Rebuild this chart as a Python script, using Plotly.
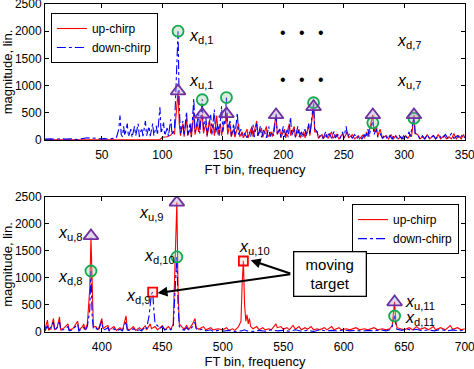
import plotly.graph_objects as go

# ---------------- data ----------------
# top panel, down-chirp (blue) : (FT bin, magnitude)
down_top = [(3,15),(8,20),(12,10),(16,25),(20,15),(25,20),(30,10),(35,25),(38,40),(41,30),(44,35),(48,20),(52,25),(56,15),(60,30),(62,40),(64,200),(65,450),(66,100),(67,60),(68,250),(69,80),(71,300),(72,60),(74,200),(75,50),(77,250),(78,80),(80,300),(81,60),(83,220),(84,70),(86,350),(87,80),(89,250),(90,70),(92,300),(93,80),(95,260),(96,90),(98,600),(99,120),(101,320),(102,80),(104,220),(105,70),(107,380),(108,100),(110,200),(112,1200),(113,2000),(114,600),(115,120),(117,350),(118,80),(120,520),(121,90),(123,320),(124,60),(126,760),(127,150),(129,350),(130,480),(131,120),(133,750),(134,200),(136,420),(137,90),(139,350),(140,460),(141,100),(143,560),(144,130),(146,300),(147,80),(149,620),(150,150),(152,400),(153,780),(154,200),(156,350),(157,80),(159,300),(160,70),(162,500),(163,100),(165,200),(166,60),(168,120),(170,40),(172,150),(173,60),(175,280),(176,50),(178,300),(179,60),(181,250),(182,50),(184,200),(186,40),(188,250),(189,60),(191,150),(192,80),(194,480),(195,120),(197,200),(198,50),(200,250),(201,60),(203,180),(204,50),(206,420),(207,80),(209,200),(210,50),(212,250),(213,60),(215,150),(216,50),(218,200),(219,60),(221,300),(222,100),(224,500),(225,680),(226,200),(228,150),(229,40),(231,100),(233,30),(235,150),(236,40),(238,120),(240,30),(242,160),(243,40),(245,100),(247,30),(249,150),(250,40),(252,250),(253,60),(255,120),(257,30),(259,100),(261,30),(263,80),(265,20),(267,100),(268,40),(270,200),(271,60),(273,300),(274,320),(275,100),(277,200),(278,50),(280,120),(282,30),(284,100),(286,20),(288,80),(290,20),(292,100),(294,30),(296,80),(298,20),(300,100),(302,40),(304,150),(305,60),(307,300),(308,420),(309,120),(311,100),(313,20),(315,80),(317,20),(319,100),(321,20),(324,80),(326,20),(329,90),(331,20),(334,100),(336,30),(339,120),(341,30),(344,80),(346,20),(348,100),(350,40)]

# top panel, up-chirp (red)
up_top = [(3,5),(20,5),(40,8),(60,5),(80,8),(98,10),(100,50),(104,60),(107,90),(109,150),(110,100),(112,600),(113,900),(114,300),(115,80),(117,300),(118,60),(120,400),(121,80),(123,200),(124,50),(126,520),(127,100),(129,300),(130,150),(132,380),(133,470),(134,120),(136,300),(137,60),(139,380),(140,120),(142,300),(143,80),(145,450),(146,100),(148,300),(149,80),(151,350),(152,300),(153,480),(154,100),(156,300),(157,60),(159,200),(160,50),(163,300),(164,60),(166,150),(167,40),(170,200),(171,40),(174,250),(175,60),(178,350),(179,80),(182,220),(183,50),(186,250),(187,50),(190,150),(191,60),(193,300),(194,450),(195,100),(197,200),(198,40),(201,200),(202,40),(205,300),(206,80),(209,250),(210,50),(213,200),(214,40),(217,150),(218,40),(221,260),(222,80),(224,450),(225,620),(226,150),(228,150),(229,30),(232,100),(233,30),(236,100),(237,30),(240,150),(241,30),(244,100),(246,20),(249,120),(250,30),(253,150),(254,40),(257,100),(259,20),(262,80),(263,20),(266,100),(267,30),(269,150),(270,60),(272,250),(273,350),(274,460),(275,150),(277,250),(278,60),(280,200),(282,30),(285,80),(287,20),(289,100),(291,20),(293,80),(295,20),(297,60),(299,20),(301,80),(303,30),(305,100),(306,60),(307,300),(308,460),(309,120),(311,100),(313,20),(315,60),(317,20),(319,100),(321,20),(324,80),(326,20),(328,100),(330,20),(333,80),(335,20),(337,60),(339,20),(341,120),(343,20),(345,80),(347,20),(349,100),(350,40)]

# bottom panel, down-chirp (blue)
down_bot = [(353,20),(355,120),(356,30),(360,180),(361,30),(363,80),(365,190),(366,30),(369,50),(372,100),(373,20),(376,40),(380,150),(381,20),(385,90),(386,20),(388,100),(390,400),(391,1130),(392,300),(393,60),(395,80),(397,20),(400,200),(401,40),(403,50),(405,80),(406,20),(410,60),(412,20),(415,50),(417,20),(420,200),(421,40),(423,20),(426,60),(428,20),(431,40),(433,20),(436,100),(437,60),(439,300),(441,700),(442,740),(443,400),(444,150),(446,120),(448,60),(450,100),(452,40),(455,60),(457,40),(459,100),(461,900),(462,1400),(463,500),(464,100),(466,60),(468,30),(470,80),(472,30),(475,100),(477,180),(478,60),(480,30),(484,60),(486,20),(490,40),(492,10),(496,30),(500,15),(505,30),(510,10),(515,20),(518,40),(520,20),(525,10),(530,30),(535,15),(540,40),(545,20),(550,30),(555,15),(560,40),(565,15),(570,30),(575,10),(580,40),(585,20),(590,30),(595,15),(600,40),(605,20),(610,30),(615,15),(620,30),(625,20),(630,40),(635,20),(638,40),(640,100),(641,200),(642,300),(643,150),(644,50),(648,30),(652,60),(656,30),(660,50),(665,20),(670,40),(675,20),(680,50),(685,20),(690,40),(695,20),(700,30)]

# bottom panel, up-chirp (red)
up_bot = [(353,50),(355,220),(356,40),(358,60),(360,250),(361,40),(363,80),(365,280),(366,40),(369,80),(372,150),(373,40),(376,60),(380,200),(381,40),(384,100),(385,150),(386,40),(388,150),(390,800),(391,1750),(392,600),(393,100),(395,100),(397,40),(400,250),(401,60),(403,100),(405,120),(406,40),(410,100),(412,30),(415,80),(417,30),(420,300),(421,60),(423,40),(426,100),(428,30),(431,80),(433,40),(436,120),(437,40),(440,150),(441,60),(444,100),(446,40),(450,120),(452,40),(455,100),(457,50),(459,150),(461,1500),(462,2400),(463,800),(464,150),(466,100),(468,50),(470,120),(472,50),(475,150),(477,250),(478,80),(480,50),(484,100),(486,40),(490,80),(492,40),(496,60),(500,40),(503,80),(505,30),(508,60),(510,30),(513,100),(515,200),(516,900),(517,1320),(518,500),(519,200),(520,320),(521,150),(522,250),(523,100),(525,60),(528,100),(530,40),(533,80),(535,40),(538,60),(540,40),(544,150),(545,80),(548,100),(550,50),(553,80),(555,40),(558,120),(560,50),(563,100),(565,40),(568,80),(570,50),(573,100),(575,40),(578,60),(580,40),(584,80),(586,40),(590,100),(592,40),(596,80),(598,40),(602,60),(605,40),(610,80),(613,40),(617,60),(620,40),(625,80),(628,40),(632,60),(635,40),(638,60),(640,120),(641,300),(642,560),(643,200),(644,80),(647,60),(650,40),(654,80),(657,40),(660,100),(663,50),(667,80),(670,40),(674,100),(676,40),(680,80),(684,40),(688,120),(690,50),(694,80),(697,40),(700,60)]

# detected peaks
tri_top_bin = [113, 133, 153, 194, 225, 274, 308]
tri_top_mag = [900, 470, 480, 460, 610, 460, 460]
cir_top_bin = [113, 133, 153, 225, 274, 308]
cir_top_mag = [2000, 740, 780, 685, 315, 400]

tri_bot_bin = [391, 462, 642]
tri_bot_mag = [1780, 2400, 555]
cir_bot_bin = [391, 462, 642]
cir_bot_mag = [1130, 1390, 296]
sq_bot_bin = [442, 517]
sq_bot_mag = [740, 1315]

y_ticks = [0, 500, 1000, 1500, 2000, 2500]
x_ticks_top = [50, 100, 150, 200, 250, 300, 350]
x_ticks_bot = [400, 450, 500, 550, 600, 650, 700]

# ---------------- figure ----------------
RED = "rgb(255,0,0)"
BLUE = "rgb(0,0,255)"
PURPLE = "rgb(112,48,160)"
GREEN = "rgb(20,170,80)"
FONT = "Liberation Sans, Arial, sans-serif"

fig = go.Figure()

def unzip(p):
    return [a for a, _ in p], [b for _, b in p]

x, y = unzip(up_top)
fig.add_trace(go.Scatter(x=x, y=y, mode="lines", name="up-chirp",
                         line=dict(color=RED, width=1.1),
                         xaxis="x", yaxis="y", legend="legend", legendrank=1))
x, y = unzip(down_top)
fig.add_trace(go.Scatter(x=x, y=y, mode="lines", name="down-chirp",
                         line=dict(color=BLUE, width=1.1, dash="dashdot"),
                         xaxis="x", yaxis="y", legend="legend", legendrank=2))
x, y = unzip(up_bot)
fig.add_trace(go.Scatter(x=x, y=y, mode="lines", name="up-chirp",
                         line=dict(color=RED, width=1.1),
                         xaxis="x2", yaxis="y2", legend="legend2", legendrank=1))
x, y = unzip(down_bot)
fig.add_trace(go.Scatter(x=x, y=y, mode="lines", name="down-chirp",
                         line=dict(color=BLUE, width=1.1, dash="dashdot"),
                         xaxis="x2", yaxis="y2", legend="legend2", legendrank=2))

def markers(xs, ys, sym, col, size, xa, ya, fill):
    fig.add_trace(go.Scatter(x=xs, y=ys, mode="markers", showlegend=False,
                             marker=dict(symbol=sym, size=size, color=fill,
                                         line=dict(color=col, width=1.8)),
                             xaxis=xa, yaxis=ya, hoverinfo="skip"))

markers(cir_top_bin, cir_top_mag, "circle", GREEN, 11, "x", "y", "rgba(150,200,160,0.35)")
markers(tri_top_bin, tri_top_mag, "triangle-up", PURPLE, 13, "x", "y", "rgba(160,140,190,0.35)")
markers(cir_bot_bin, cir_bot_mag, "circle", GREEN, 11, "x2", "y2", "rgba(150,200,160,0.35)")
markers(tri_bot_bin, tri_bot_mag, "triangle-up", PURPLE, 13, "x2", "y2", "rgba(160,140,190,0.35)")
markers(sq_bot_bin, sq_bot_mag, "square", RED, 9, "x2", "y2", "rgba(255,200,200,0.3)")

axis_common = dict(showline=True, linecolor="black", linewidth=1, mirror="ticks",
                   ticks="inside", ticklen=4, tickcolor="black", showgrid=False,
                   zeroline=False, automargin=False, ticklabeloverflow="allow",
                   tickfont=dict(size=12, color="black", family=FONT))

ann = []
def lab(txt, xv, yv, xr, yr):
    ann.append(dict(text=txt, x=xv, y=yv, xref=xr, yref=yr, showarrow=False,
                    xanchor="left", yanchor="middle",
                    font=dict(size=16, color="black", family=FONT)))

lab("<i>x</i><sub>d,1</sub>", 120, 1900, "x", "y")
lab("<i>x</i><sub>u,1</sub>", 120, 1080, "x", "y")
lab("<i>x</i><sub>d,7</sub>", 292, 1810, "x", "y")
lab("<i>x</i><sub>u,7</sub>", 292, 1080, "x", "y")
for yy in (1985, 1120):
    ann.append(dict(text="•   •   •", x=215, y=yy, xref="x", yref="y", showarrow=False,
                    font=dict(size=16, color="black", family=FONT)))

lab("<i>x</i><sub>u,8</sub>", 362, 1830, "x2", "y2")
lab("<i>x</i><sub>d,8</sub>", 362, 1000, "x2", "y2")
lab("<i>x</i><sub>u,9</sub>", 429, 2200, "x2", "y2")
lab("<i>x</i><sub>d,10</sub>", 433, 1390, "x2", "y2")
lab("<i>x</i><sub>d,9</sub>", 418, 665, "x2", "y2")
lab("<i>x</i><sub>u,10</sub>", 512, 1570, "x2", "y2")
lab("<i>x</i><sub>u,11</sub>", 649, 545, "x2", "y2")
lab("<i>x</i><sub>d,11</sub>", 649, 250, "x2", "y2")

# arrows from "moving target" box
for hx, hy in ((523, 1330), (446, 722)):
    ann.append(dict(x=hx, y=hy, xref="x2", yref="y2", ax=557, ay=1074,
                    axref="x2", ayref="y2", showarrow=True, arrowhead=2,
                    arrowsize=1, arrowwidth=2, arrowcolor="black", text=""))
ann.append(dict(text="moving<br>target", x=0.679, y=0.177, xref="paper", yref="paper",
                showarrow=False, xanchor="center", yanchor="middle",
                width=71, height=43, borderpad=0, bordercolor="black", borderwidth=1.3,
                bgcolor="white", font=dict(size=15, color="black", family=FONT)))

legend_common = dict(bordercolor="black", borderwidth=1, bgcolor="white",
                     font=dict(size=12, color="black", family=FONT),
                     xanchor="left", yanchor="top", tracegroupgap=0,
                     traceorder="normal")

fig.update_layout(
    width=474, height=369,
    margin=dict(l=45, r=9, t=4, b=37),
    paper_bgcolor="white", plot_bgcolor="white",
    font=dict(family=FONT, color="black", size=12),
    xaxis=dict(domain=[0, 1], range=[3, 350.2], tickvals=x_ticks_top, anchor="y",
               ticklabelstandoff=4,
               title=dict(text="FT bin, frequency", standoff=1, font=dict(size=13)),
               **axis_common),
    yaxis=dict(domain=[0.5854, 1], range=[0, 2500], tickvals=y_ticks, anchor="x",
               title=dict(text="magnitude, lin.", standoff=2, font=dict(size=13)),
               **axis_common),
    xaxis2=dict(domain=[0, 1], range=[353, 700.2], tickvals=x_ticks_bot, anchor="y2",
                ticklabelstandoff=4,
                title=dict(text="FT bin, frequency", standoff=1, font=dict(size=13)),
                **axis_common),
    yaxis2=dict(domain=[0, 0.4116], range=[0, 2500], tickvals=y_ticks, anchor="x2",
                title=dict(text="magnitude, lin.", standoff=2, font=dict(size=13)),
                **axis_common),
    legend=dict(x=0.014, y=0.9726, **legend_common),
    legend2=dict(x=0.731, y=0.39, **legend_common),
    annotations=ann,
    showlegend=True,
)

fig.write_html("out.html", config={"displayModeBar": False},
               post_script="document.body.style.margin='0';document.body.style.overflow='hidden';")
